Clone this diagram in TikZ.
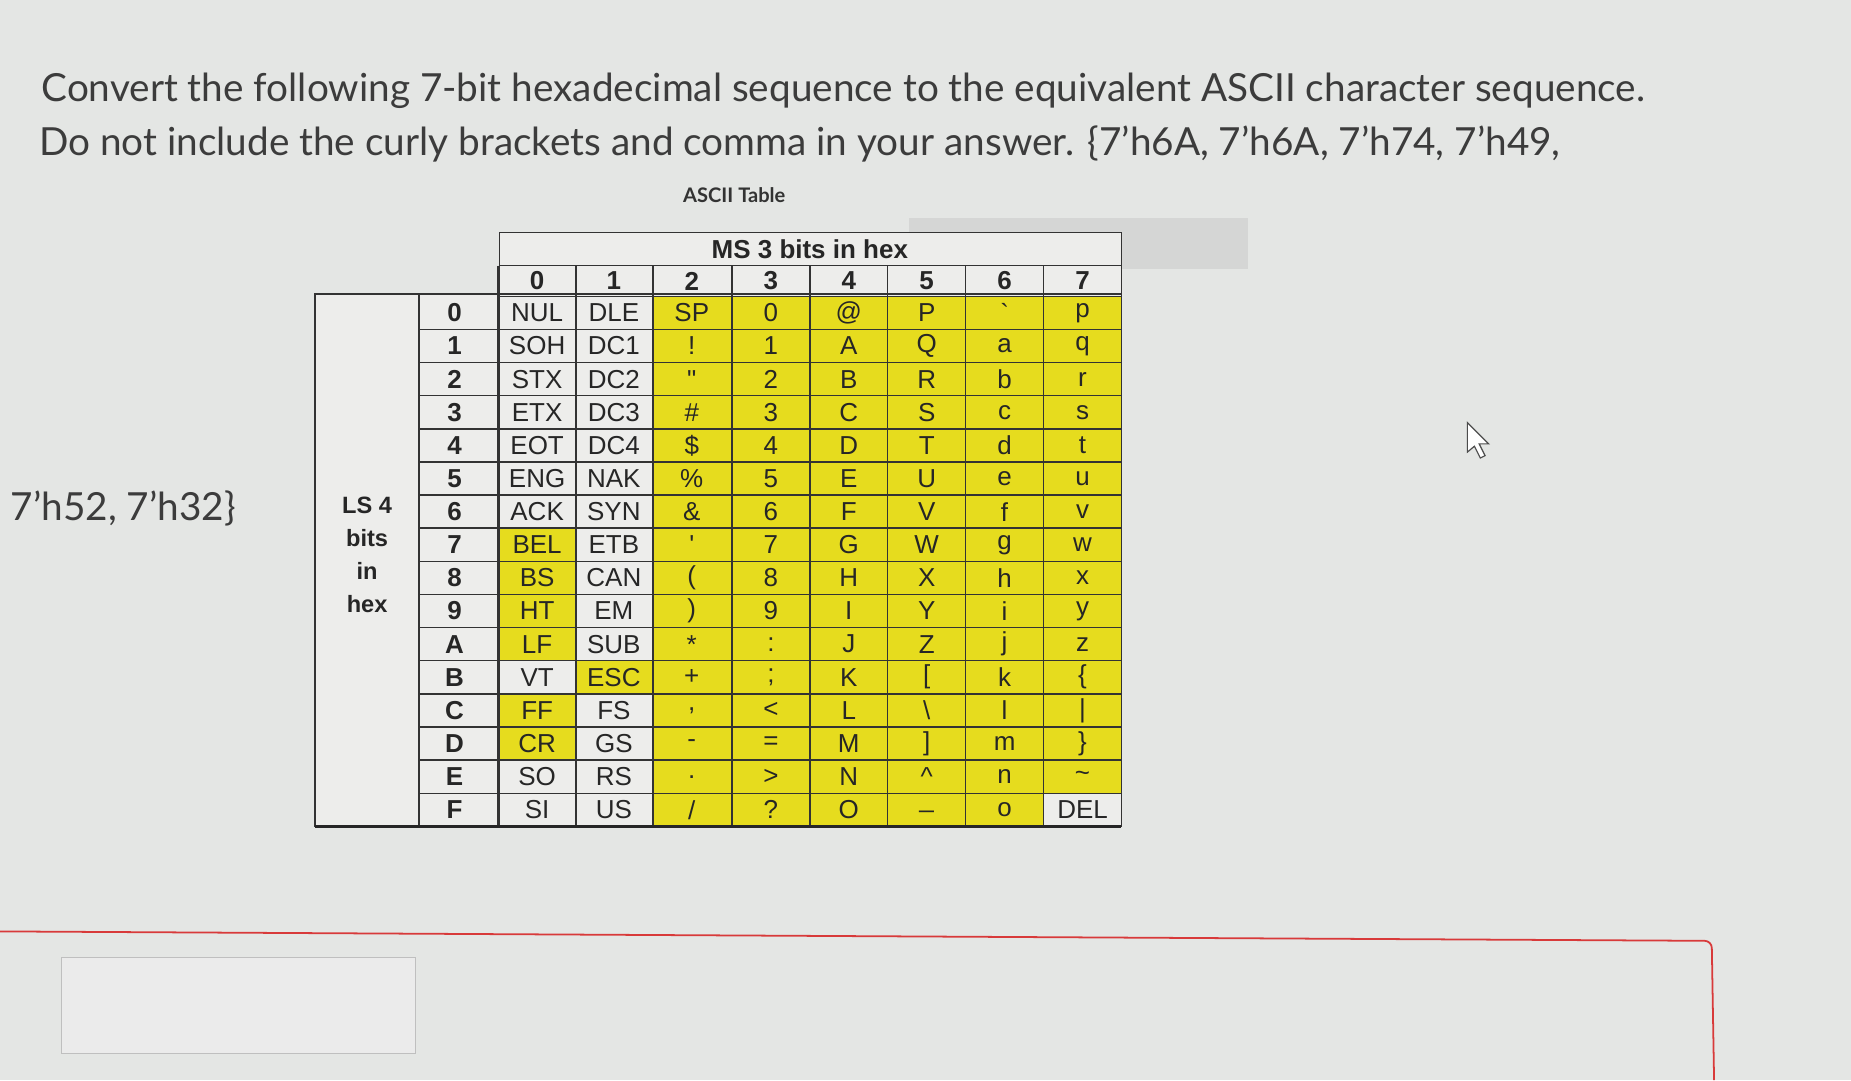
\documentclass[tikz,border=0pt]{standalone}
\usepackage{fontspec}
\setmainfont{Lato}
\newfontfamily\arialf{Liberation Sans}
\newcommand\cmachar{,}
\newcommand\lparchar{(}
\newcommand\rparchar{)}
\definecolor{bgc}{HTML}{E4E6E4}
\definecolor{cellw}{HTML}{EDEDEB}
\definecolor{ylw}{HTML}{E6DC1E}
\definecolor{redl}{HTML}{D83A3A}
\definecolor{txt}{HTML}{3C3C3C}
\tikzset{
  q/.style={anchor=base west,inner sep=0pt,font=\fontsize{32.8}{33}\selectfont,text=txt},
  cell/.style={inner sep=0pt,font=\arialf\fontsize{22}{22}\selectfont,text=black!85},
  hcell/.style={cell,font=\arialf\bfseries\fontsize{22}{22}\selectfont},
  grid/.style={draw=black!80,line width=1.2pt}
}
\begin{document}
\begin{tikzpicture}[x=1pt,y=-1pt]
\fill[bgc] (0,0) rectangle (1568,915);
\useasboundingbox (0,0) rectangle (1568,915);
% question text
\node[q] (l1) at (35,86) {Convert the following 7-bit hexadecimal sequence to the equivalent ASCII character sequence.};
\node[q] (l2) at (33,132) {Do not include the curly brackets and comma in your answer. \{7’h6A, 7’h6A, 7’h74, 7’h49,};
\node[q] (l3) at (9,441) {7’h52, 7’h32\}};
\node[font=\bfseries\fontsize{17}{17}\selectfont,text=black!80] (title) at (622,165) {ASCII Table};
% screen smudge
\fill[black!20,opacity=0.6] (770,185) rectangle (1057,228);
% header boxes
\fill[cellw] (423,197) rectangle (950,251);
\fill[cellw] (267,249) rectangle (422,700);
\fill[ylw] (422,251) rectangle (950,700);
\def\rh{28.0625}
% white cells in col0/col1
\foreach \r in {0,...,6,11,14,15}{\fill[cellw] (422,251+\r*\rh) rectangle (488,251+\r*\rh+\rh);}
\foreach \r in {0,...,10,12,13,14,15}{\fill[cellw] (488,251+\r*\rh) rectangle (553,251+\r*\rh+\rh);}
\fill[cellw] (884,251+15*\rh) rectangle (950,700);
% grid
\draw[grid] (423,197) rectangle (950,700);
\draw[grid] (423,225) -- (950,225);
\draw[grid] (267,249) rectangle (950,700);
\draw[grid] (355,249) -- (355,700);
\foreach \x in {422,488,553,620,686,752,818,884}{\draw[grid] (\x,225) -- (\x,700);}
\draw[grid] (423,251) -- (950,251);
\foreach \r in {1,...,15}{\draw[grid] (355,251+\r*\rh) -- (950,251+\r*\rh);}
\draw[black!85,line width=2.5pt] (267,700) -- (950,700);
\node[hcell] (ms) at (686,211) {MS 3 bits in hex};
\node[hcell,align=center,font=\arialf\bfseries\fontsize{20}{28}\selectfont] (ls) at (311,470) {LS 4\\bits\\in\\hex};
% column headers
\foreach \c/\x in {0/455,1/520,2/586,3/653,4/719,5/785,6/851,7/917}{\node[hcell] (h\c) at (\x,238) {\c};}
% row headers
\foreach \l [count=\i from 0] in {0,1,2,3,4,5,6,7,8,9,A,B,C,D,E,F}{\node[hcell] (r\i) at (385,251+\i*\rh+0.5*\rh) {\l};}
% data
\foreach \c/\x/\lst in {
 0/455/{NUL,SOH,STX,ETX,EOT,ENG,ACK,BEL,BS,HT,LF,VT,FF,CR,SO,SI},
 1/520/{DLE,DC1,DC2,DC3,DC4,NAK,SYN,ETB,CAN,EM,SUB,ESC,FS,GS,RS,US},
 2/586/{SP,!,",\#,\$,\%,\&,\textquotesingle,\lparchar,\rparchar,*,+,\cmachar,-,.,/},
 3/653/{0,1,2,3,4,5,6,7,8,9,:,;,<,=,>,?},
 4/719/{@,A,B,C,D,E,F,G,H,I,J,K,L,M,N,O},
 5/785/{P,Q,R,S,T,U,V,W,X,Y,Z,[,\textbackslash,],\textasciicircum,\_},
 6/851/{\textasciigrave,a,b,c,d,e,f,g,h,i,j,k,l,m,n,o},
 7/917/{p,q,r,s,t,u,v,w,x,y,z,\{,|,\},\textasciitilde,DEL}}{
  \foreach \t [count=\i from 0] in \lst {\node[cell] (d\c-\i) at (\x,251+\i*\rh+0.5*\rh) {\t};}
}
% answer area
\draw[redl,line width=1.5pt,rounded corners=6pt] (0,789) -- (1450,797) -- (1452,915);
\fill[black!8] (52,811) rectangle (352,892);
\draw[black!25] (52,811) rectangle (352,892);
% cursor
\draw[black!70,fill=white,line width=1pt] (1243,358) -- (1243,383) -- (1249,378) -- (1254,388) -- (1258,386) -- (1253,376) -- (1261,376) -- cycle;
\end{tikzpicture}
\end{document}
